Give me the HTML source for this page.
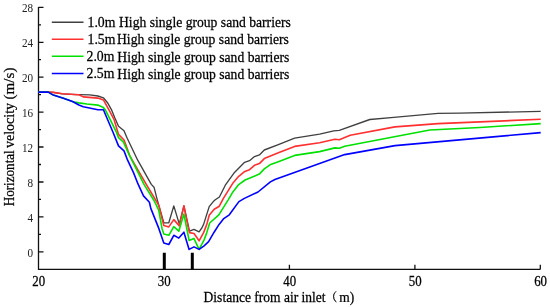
<!DOCTYPE html>
<html><head><meta charset="utf-8"><title>Horizontal velocity</title>
<style>
html,body{margin:0;padding:0;background:#fff;}
svg{display:block;}
text{font-family:"Liberation Serif","Noto Serif CJK SC",serif;fill:#000;stroke:#000;stroke-width:0.25px;}
</style></head><body>
<svg width="550" height="307" viewBox="0 0 550 307">
<rect width="550" height="307" fill="#fff"/>
<path d="M38.5,7 V269.3 H540.5" fill="none" stroke="#111" stroke-width="1.3"/>
<path d="M38.5,251.8 h5 M38.5,216.9 h5 M38.5,182.0 h5 M38.5,147.0 h5 M38.5,112.1 h5 M38.5,77.2 h5 M38.5,42.3 h5 M38.5,7.4 h5 M38.5,234.3 h2.5 M38.5,199.4 h2.5 M38.5,164.5 h2.5 M38.5,129.6 h2.5 M38.5,94.7 h2.5 M38.5,59.7 h2.5 M38.5,24.8 h2.5 " stroke="#111" stroke-width="1.3" fill="none"/>
<path d="M163.9,269.3 v-4.5 M289.4,269.3 v-4.5 M414.9,269.3 v-4.5 M540.3,269.3 v-4.5 " stroke="#111" stroke-width="1.3" fill="none"/>
<path d="M164.3,252.8 V269.3 M192.3,252.8 V269.3" stroke="#000" stroke-width="3" fill="none"/>
<text style="stroke:none;fill:#222" transform="translate(33.2,256.6) scale(0.93,1)" font-size="12" text-anchor="end">0</text>
<text style="stroke:none;fill:#222" transform="translate(33.2,221.7) scale(0.93,1)" font-size="12" text-anchor="end">4</text>
<text style="stroke:none;fill:#222" transform="translate(33.2,186.8) scale(0.93,1)" font-size="12" text-anchor="end">8</text>
<text style="stroke:none;fill:#222" transform="translate(33.2,151.8) scale(0.93,1)" font-size="12" text-anchor="end">12</text>
<text style="stroke:none;fill:#222" transform="translate(33.2,116.9) scale(0.93,1)" font-size="12" text-anchor="end">16</text>
<text style="stroke:none;fill:#222" transform="translate(33.2,82.0) scale(0.93,1)" font-size="12" text-anchor="end">20</text>
<text style="stroke:none;fill:#222" transform="translate(33.2,47.1) scale(0.93,1)" font-size="12" text-anchor="end">24</text>
<text style="stroke:none;fill:#222" transform="translate(33.2,12.2) scale(0.93,1)" font-size="12" text-anchor="end">28</text>
<text transform="translate(38.8,285.6) scale(0.92,1)" font-size="14" text-anchor="middle">20</text>
<text transform="translate(164.2,285.6) scale(0.92,1)" font-size="14" text-anchor="middle">30</text>
<text transform="translate(289.7,285.6) scale(0.92,1)" font-size="14" text-anchor="middle">40</text>
<text transform="translate(415.2,285.6) scale(0.92,1)" font-size="14" text-anchor="middle">50</text>
<text transform="translate(540.6,285.6) scale(0.92,1)" font-size="14" text-anchor="middle">60</text>
<text transform="translate(13.6,206.3) rotate(-90) scale(0.905,1)" font-size="14.5">Horizontal</text>
<text transform="translate(13.6,148.1) rotate(-90) scale(0.968,1)" font-size="14.5">velocity</text>
<text transform="translate(13.6,99.4) rotate(-90) scale(1.04,1)" font-size="14.5">(m/s)</text>
<text transform="translate(203.6,301.5) scale(0.933,1)" font-size="14.5">Distance from air inlet</text>
<text transform="translate(326.0,301.8) scale(0.93,1)" font-size="12">（</text>
<text transform="translate(339.2,301.5) scale(0.93,1)" font-size="14.5">m)</text>
<polyline points="38.3,92.1 48.3,92.1 53.3,92.4 62.5,93.8 76.0,94.6 79.6,94.6 89.7,94.8 97.9,96.0 103.4,97.8 107.9,103.3 111.7,110.2 114.9,118.0 118.5,126.2 124.0,130.7 127.2,138.2 137.7,160.2 151.3,184.4 154.0,187.2 157.2,199.6 163.8,222.8 168.8,222.8 173.8,205.9 179.3,224.1 183.9,205.9 189.5,231.2 194.0,229.4 199.1,231.9 201.8,228.0 203.6,224.4 209.2,206.6 213.3,201.6 215.3,199.8 219.4,197.0 225.3,185.2 234.5,172.4 244.6,162.3 249.5,160.7 254.5,156.6 259.4,154.9 264.3,150.0 279.0,144.3 294.6,138.2 319.6,134.1 333.8,130.8 339.3,130.4 369.8,119.5 393.8,117.3 438.0,113.3 460.0,113.1 540.7,111.4" fill="none" stroke="#404040" stroke-width="1.35" stroke-linejoin="round"/>
<polyline points="38.3,92.1 48.3,92.1 53.3,92.4 62.5,93.8 78.9,94.7 83.3,96.9 97.9,98.1 103.4,99.9 109.1,110.2 114.0,119.3 118.5,134.4 124.0,140.0 126.2,145.9 129.9,156.2 146.3,184.4 155.4,199.6 158.8,205.4 163.8,225.5 168.8,226.9 173.8,219.6 179.3,225.9 183.9,205.9 188.4,228.4 189.5,232.6 194.0,233.5 199.1,240.8 203.6,232.6 206.8,224.4 209.2,215.3 214.2,209.3 219.3,206.2 223.4,198.4 233.2,182.7 238.7,176.3 244.2,171.8 249.5,169.7 254.5,165.3 259.4,163.6 264.3,158.6 279.0,152.5 294.6,146.4 319.6,142.8 334.9,139.3 339.3,139.7 350.2,135.2 394.9,126.9 438.0,123.6 540.7,119.3" fill="none" stroke="#ff3030" stroke-width="1.6" stroke-linejoin="round"/>
<polyline points="38.3,92.1 48.3,92.1 53.3,95.1 63.4,98.3 72.5,101.5 74.3,102.0 78.9,102.9 86.9,104.0 97.9,105.1 103.4,107.4 105.5,110.2 116.4,132.2 118.5,137.7 123.5,142.2 127.6,151.4 131.9,160.2 144.0,184.4 154.0,200.5 156.7,205.9 158.8,210.4 162.0,228.4 163.8,234.0 168.8,235.3 173.8,226.7 178.8,231.2 183.9,214.1 189.1,240.4 193.9,238.4 199.1,249.4 204.1,239.9 206.8,232.6 209.7,223.0 218.8,214.8 228.2,199.8 232.3,192.8 238.7,184.6 245.1,180.0 254.2,176.3 259.3,174.1 264.3,168.9 270.0,164.8 279.0,161.5 294.6,155.4 319.6,151.6 334.9,147.9 339.3,148.3 344.7,146.2 429.8,130.0 480.0,127.5 540.7,123.6" fill="none" stroke="#00e000" stroke-width="1.6" stroke-linejoin="round"/>
<polyline points="38.3,92.1 48.3,92.1 53.3,95.1 63.4,98.3 72.5,101.5 78.9,105.0 83.3,106.7 97.9,109.8 103.4,109.8 113.0,132.2 118.5,145.9 124.0,150.9 127.6,160.2 133.5,172.6 138.1,184.2 143.5,195.9 149.4,202.3 150.8,208.4 158.8,228.4 163.8,243.1 168.8,244.5 173.8,235.3 178.8,238.1 183.9,232.2 189.1,249.4 194.0,246.9 199.1,249.4 204.1,245.8 208.6,241.7 214.1,232.2 219.1,224.4 223.4,218.9 229.3,214.8 238.9,201.6 244.4,198.4 258.0,192.0 270.4,181.9 274.9,179.5 309.8,167.0 344.7,154.6 395.0,145.6 540.7,132.6" fill="none" stroke="#0000ff" stroke-width="1.6" stroke-linejoin="round"/>
<line x1="51.8" x2="83.5" y1="22.2" y2="22.2" stroke="#404040" stroke-width="1.5"/>
<text transform="translate(87.5,26.9) scale(0.95,1)" font-size="14.5">1.0m</text>
<text transform="translate(119.0,26.9) scale(0.941,1)" font-size="14.5">High single group sand barriers</text>
<line x1="51.8" x2="83.5" y1="39.2" y2="39.2" stroke="#ff3030" stroke-width="1.5"/>
<text transform="translate(87.5,43.9) scale(0.95,1)" font-size="14.5">1.5m</text>
<text transform="translate(117.0,43.9) scale(0.941,1)" font-size="14.5">High single group sand barriers</text>
<line x1="51.8" x2="83.5" y1="56.3" y2="56.3" stroke="#00e000" stroke-width="1.5"/>
<text transform="translate(86.5,61.0) scale(0.95,1)" font-size="14.5">2.0m</text>
<text transform="translate(117.3,61.8) scale(0.9887318840579709,1)" font-size="13.8">High single group sand barriers</text>
<line x1="51.8" x2="83.5" y1="73.5" y2="73.5" stroke="#0000ff" stroke-width="1.5"/>
<text transform="translate(86.5,78.2) scale(0.95,1)" font-size="14.5">2.5m</text>
<text transform="translate(117.3,79.0) scale(0.9887318840579709,1)" font-size="13.8">High single group sand barriers</text>
</svg>
</body></html>
